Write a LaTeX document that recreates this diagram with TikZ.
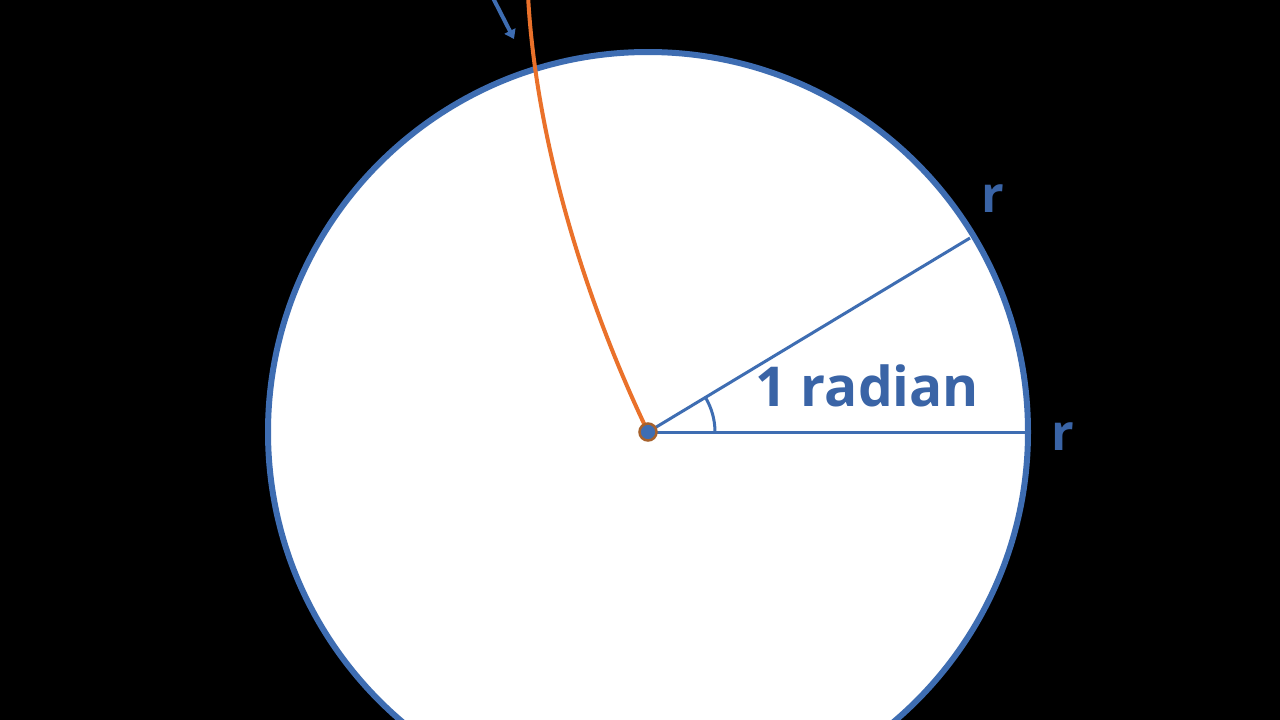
\documentclass[tikz,border=0pt]{standalone}
\usepackage{fontspec}
\setmainfont{Open Sans}
\usetikzlibrary{arrows.meta,calc}
\definecolor{cblue}{HTML}{3E6DB2}
\definecolor{tblue}{HTML}{3A64A6}
\definecolor{corange}{HTML}{EA712A}
\tikzset{
  radline/.style={draw=cblue, line width=3pt},
  lbl/.style={text=tblue, font=\bfseries\fontsize{50}{50}\selectfont, inner sep=0pt},
}
\begin{document}
\begin{tikzpicture}[x=1pt,y=-1pt]
\useasboundingbox[fill=black] (0,0) rectangle (1280,720);
\begin{scope}
\clip (0,0) rectangle (1280,720);
\node[circle, draw=cblue, fill=white, line width=6pt, minimum size=760pt, inner sep=0pt] (circ) at (648,432) {};
\coordinate (O) at (648,432);
\coordinate (A) at (1025,432);
\coordinate (B) at (970,238);
\draw[radline] (O) -- (A);
\draw[radline] (O) -- (B);
\draw[draw=cblue, line width=3pt] ($(O)+(67,0)$) arc[start angle=0, end angle=-31, radius=67];
\coordinate (T) at (528,-5);
\draw[corange, line width=4pt] (O) .. controls (580,290) and (535,130) .. (T);
\coordinate (P) at (492,-4);
\coordinate (Q) at (514,39);
\draw[cblue, line width=4pt, -{Triangle[length=9pt,width=12pt]}] (P) -- (Q);
\node[circle, fill=cblue, draw=brown!60!corange!80!black, line width=2.5pt, minimum size=17pt, inner sep=0pt] (dot) at (O) {};
\node[lbl, font=\bfseries\fontsize{55}{55}\selectfont, anchor=base west] (rad) at (755,406) {1 radian};
\node[lbl, anchor=base] (r1) at (993,212) {r};
\node[lbl, anchor=base] (r2) at (1063,450) {r};
\end{scope}
\end{tikzpicture}
\end{document}
